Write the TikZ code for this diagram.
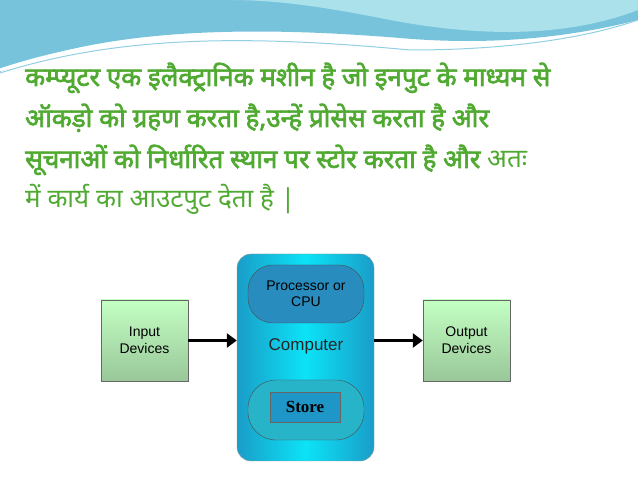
\documentclass[tikz,border=0pt]{standalone}
\usepackage{fontspec}
\newfontfamily\hindi[Script=Devanagari]{Noto Sans}
\newfontfamily\hindib[Script=Devanagari,FakeBold=2.5]{Noto Sans}
\newfontfamily\arialf{Liberation Sans}
\newfontfamily\timesf{Liberation Serif}
\usetikzlibrary{arrows.meta}
\definecolor{hgreen}{RGB}{80,170,50}
\definecolor{wave1}{RGB}{120,195,220}
\definecolor{wave2}{RGB}{170,225,235}
\definecolor{compblue}{RGB}{30,185,235}
\definecolor{procblue}{RGB}{40,140,190}
\definecolor{storeteal}{RGB}{40,180,200}
\definecolor{storerect}{RGB}{30,150,200}
\tikzset{
 dev/.style={draw=black!60, top color=green!15!white!90!green, bottom color=green!45!black!40!white, minimum width=87pt, minimum height=81pt, align=center, font=\arialf\fontsize{14}{17}\selectfont},
 pill/.style={draw=black!70, rounded corners=25pt, minimum width=116pt, minimum height=58pt, align=center},
 arr/.style={line width=2.5pt, -{Triangle[length=10pt,width=14pt]}},
 hline/.style={anchor=base west, inner sep=0, text=hgreen}
}
\begin{document}
\begin{tikzpicture}[x=1pt,y=-1pt]
\useasboundingbox (0,0) rectangle (638,478);
\fill[white] (0,0) rectangle (638,478);
% waves
\fill[wave1] (0,0) -- (638,0) -- (638,20) .. controls (560,40) and (480,45) .. (400,38) .. controls (300,30) and (120,20) .. (0,72) -- cycle;
\fill[wave2] (230,0) -- (638,0) -- (638,10) .. controls (560,40) and (470,35) .. (390,20) .. controls (330,8) and (280,0) .. (230,0) -- cycle;
\draw[white, line width=3pt] (0,70) .. controls (120,30) and (250,30) .. (400,46);
\draw[wave1!80, line width=1pt] (0,73) .. controls (120,35) and (250,35) .. (410,50) .. controls (500,50) and (580,40) .. (638,20);
% text
\node[hline, font=\hindib\fontsize{26}{30}\selectfont] (l1) at (25,86) {कम्प्यूटर एक इलैक्ट्रानिक मशीन है जो इनपुट के माध्यम से};
\node[hline, font=\hindib\fontsize{26}{30}\selectfont] (l2) at (25,127) {ऑकड़ो को ग्रहण करता है,उन्हें प्रोसेस करता है और};
\node[hline, font=\hindib\fontsize{26}{30}\selectfont] (l3) at (25,168) {सूचनाओं को निर्धारित स्थान पर स्टोर करता है और {\hindi अतः}};
\node[hline, font=\hindi\fontsize{26}{30}\selectfont] (l4) at (25,208) {में कार्य का आउटपुट देता है |};
% diagram
\node[dev] (in) at (144.5,340.5) {Input\\Devices};
\node[dev] (out) at (466.5,340.5) {Output\\Devices};
\node[draw=black!40, rounded corners=14pt, left color=compblue!85!black, right color=compblue!85!black, middle color=cyan!60!compblue, minimum width=137pt, minimum height=207pt] (comp) at (305.5,357.5) {};
\node[pill, fill=procblue, font=\arialf\fontsize{14}{16}\selectfont] (proc) at (306,294) {Processor or\\CPU};
\node[font=\arialf\fontsize{17}{19}\selectfont, text=black!85] (clab) at (306,346) {Computer};
\node[pill, fill=storeteal, minimum height=60pt, rounded corners=28pt] (spill) at (306,410) {};
\node[draw=black!60, fill=storerect, minimum width=70pt, minimum height=30pt, font=\timesf\bfseries\fontsize{17}{19}\selectfont] (store) at (305,407) {Store};
\draw[arr] (in.east) -- (comp.west |- in.east);
\draw[arr] (comp.east |- out.west) -- (out.west);
\end{tikzpicture}
\end{document}
